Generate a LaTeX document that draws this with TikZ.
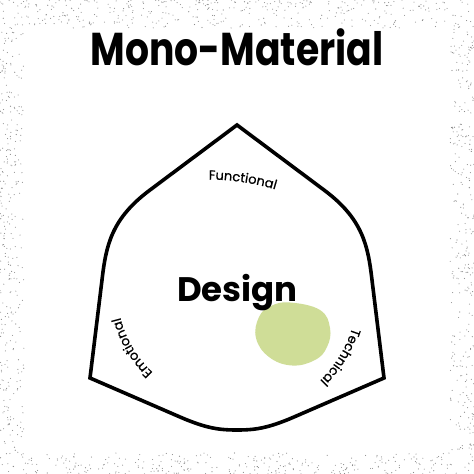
\documentclass[tikz,border=0pt]{standalone}
\usepackage{fontspec}
\newfontfamily\pop{Poppins}
\newfontfamily\popm{Poppins}[FakeBold=0.6]
\usetikzlibrary{decorations.text}
\definecolor{blobgreen}{RGB}{207,221,151}
\definecolor{dotgray}{RGB}{140,140,140}
\newcommand\lblfnt{\popm\fontsize{13}{15}\selectfont}
\begin{document}
\begin{tikzpicture}[x=1pt,y=1pt,
  outline/.style={line width=3.6pt, line join=miter, draw=black},
  speck/.style={fill=dotgray},
  labelpath/.style={decorate, decoration={text along path, text align=center, text={|\lblfnt|#1}}}]
\useasboundingbox (0,0) rectangle (474,474);
\fill[white] (0,0) rectangle (474,474);
\pgfmathsetseed{7}
% speckled frame
\foreach \i in {1,...,380}{
  \pgfmathsetmacro\xx{rnd*474}
  \pgfmathsetmacro\yy{474-28*rnd^1.3}
  \fill[speck] (\xx,\yy) circle (0.55);
}
\foreach \i in {1,...,300}{
  \pgfmathsetmacro\xx{rnd*474}
  \pgfmathsetmacro\yy{21*rnd^1.3}
  \fill[speck] (\xx,\yy) circle (0.55);
}
\foreach \i in {1,...,300}{
  \pgfmathsetmacro\xx{24*rnd^1.3}
  \pgfmathsetmacro\yy{20+430*rnd}
  \fill[speck] (\xx,\yy) circle (0.55);
}
\foreach \i in {1,...,300}{
  \pgfmathsetmacro\xx{474-24*rnd^1.3}
  \pgfmathsetmacro\yy{20+430*rnd}
  \fill[speck] (\xx,\yy) circle (0.55);
}
% blob
\fill[blobgreen] plot[smooth cycle, tension=0.7] coordinates {(290,171.5) (320,164) (330,146) (327,127) (315,114) (292,108.5) (269,117) (256,136) (259,157) (271,168)};
% outline shape
\draw[outline] (237,349) -- (150,284) .. controls (111,255) and (106,228) .. (102,194) -- (90,96) -- (180,57) .. controls (207,45.3) and (220,44) .. (237,44) .. controls (254,44) and (267,45.3) .. (294,57) -- (384,96) -- (372,194) .. controls (368,228) and (363,255) .. (324,284) -- cycle;
% texts
\node[anchor=base, font=\pop\bfseries\fontsize{46}{50}\selectfont] (title) at (237,408) {\scalebox{0.82}[1]{Mono-Material}};
\node[anchor=base, font=\pop\bfseries\fontsize{34}{38}\selectfont] (design) at (237.5,172) {Design};
\path[labelpath=Functional] (207,54.5) ++(97:240) arc[start angle=97, end angle=66, radius=240];
\path[labelpath=Emotional] (230,184) ++(240:113) arc[start angle=240, end angle=181, radius=113];
\path[labelpath=Technical] (231,184) ++(-2:127) arc[start angle=-2, end angle=-61, radius=127];
\end{tikzpicture}
\end{document}
